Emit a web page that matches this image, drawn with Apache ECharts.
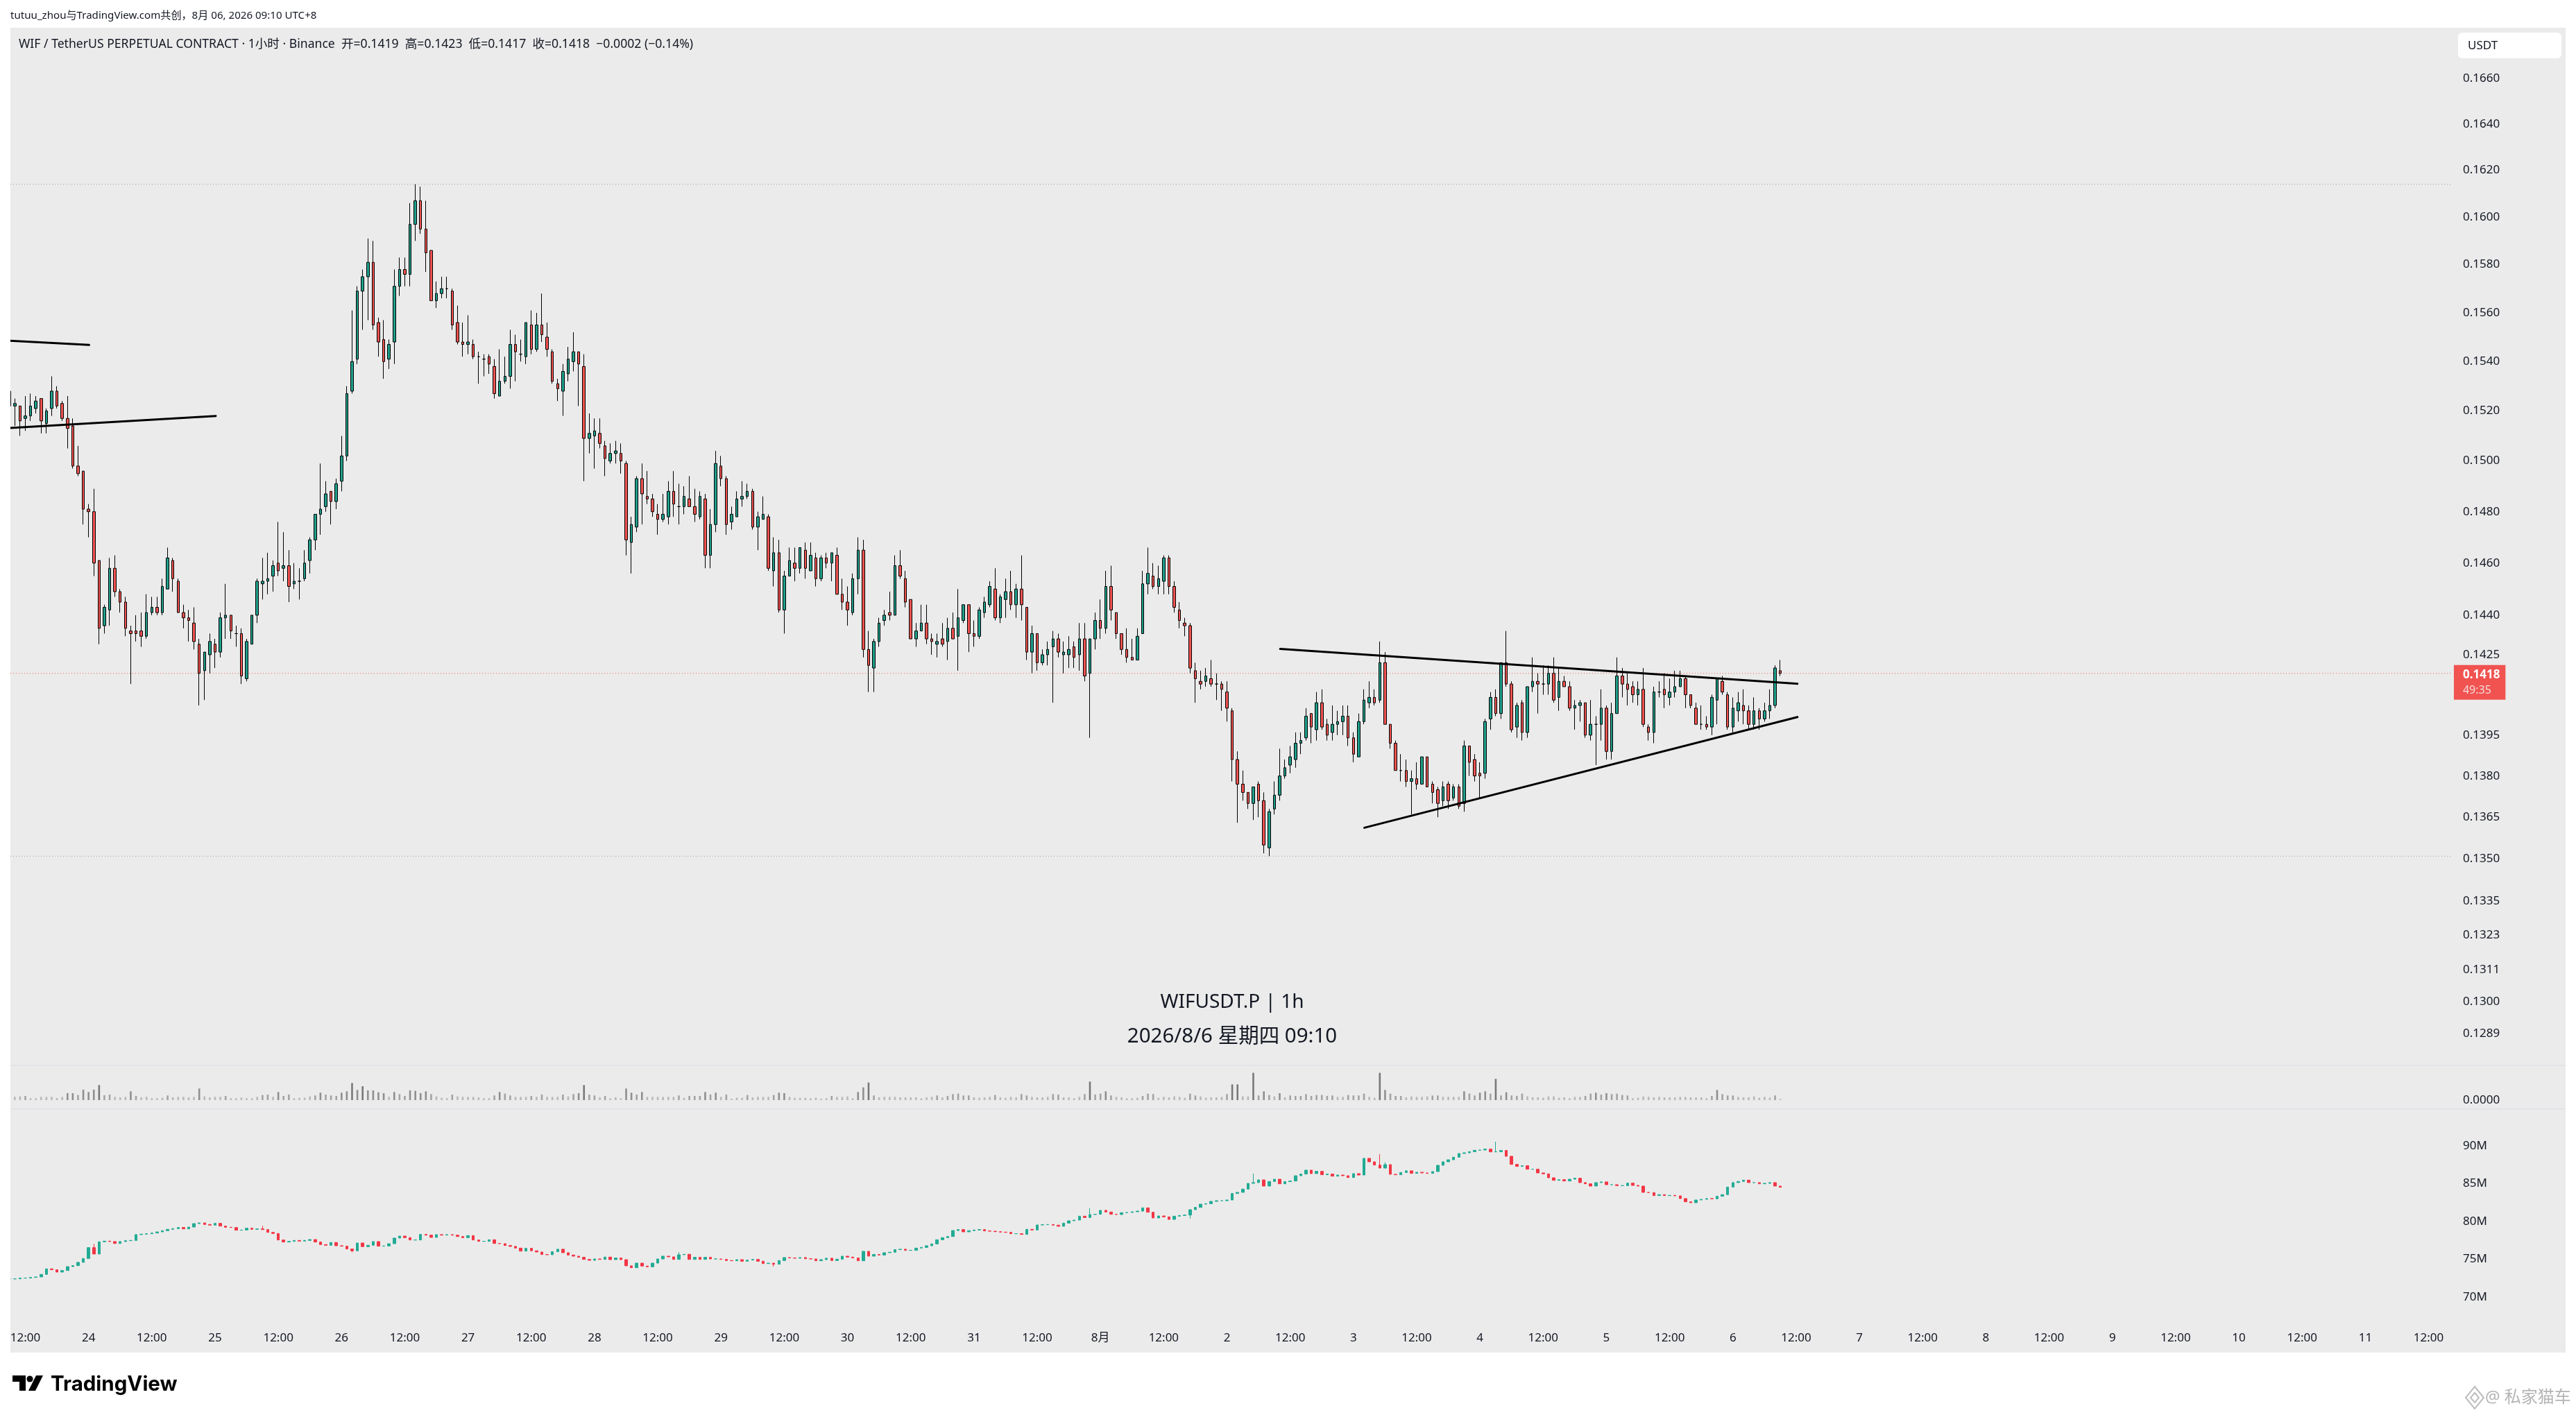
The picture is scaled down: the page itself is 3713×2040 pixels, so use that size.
<!DOCTYPE html>
<html>
<head>
<meta charset="utf-8">
<style>html,body{margin:0;padding:0;background:#fff}#c{width:3713px;height:2040px}</style>
<script src="https://cdn.jsdelivr.net/npm/echarts@6/dist/echarts.min.js"></script>
</head>
<body>
<div id="c"></div>
<script>
// Prices are listed in ten-thousandths of USDT, one candle per hour from Jul 23 09:00.
const firstHour = 9;
const priceOpen = [
1528,1522,1522,1517,1518,1521,1525,1515,1521,1528,
1523,1517,1514,1498,1496,1481,1480,1461,1436,1442,
1458,1449,1445,1434,1434,1434,1432,1441,1443,1441,
1450,1461,1453,1441,1439,1437,1429,1419,1425,1429,
1426,1439,1440,1433,1433,1416,1429,1440,1452,1453,
1455,1460,1458,1459,1452,1453,1454,1461,1469,1479,
1482,1488,1484,1492,1502,1528,1541,1569,1575,1581,
1556,1549,1541,1548,1571,1578,1576,1597,1607,1595,
1586,1565,1568,1570,1569,1556,1548,1547,1547,1542,
1541,1542,1538,1526,1532,1534,1547,1543,1542,1555,
1545,1555,1550,1544,1531,1528,1535,1540,1544,1538,
1509,1510,1511,1506,1500,1503,1503,1499,1468,1474,
1493,1486,1485,1479,1477,1478,1488,1482,1482,1485,
1482,1478,1485,1463,1475,1498,1493,1476,1478,1485,
1486,1488,1474,1477,1478,1457,1464,1442,1455,1460,
1458,1465,1457,1462,1454,1462,1460,1463,1448,1445,
1441,1454,1465,1427,1420,1430,1438,1441,1440,1459,
1454,1446,1431,1434,1437,1431,1429,1431,1430,1435,
1432,1438,1444,1433,1432,1441,1444,1450,1439,1446,
1449,1444,1450,1443,1426,1433,1422,1425,1428,1431,
1425,1425,1428,1425,1431,1418,1431,1438,1435,1451,
1441,1433,1427,1424,1423,1433,1452,1455,1451,1453,
1462,1451,1442,1437,1436,1419,1415,1415,1416,1414,
1414,1411,1404,1386,1377,1374,1370,1377,1371,1354,
1368,1373,1380,1384,1386,1392,1394,1403,1397,1407,
1399,1396,1399,1400,1402,1394,1387,1400,1407,1409,
1408,1422,1399,1392,1382,1382,1378,1379,1377,1387,
1377,1375,1371,1377,1372,1376,1370,1391,1386,1381,
1381,1401,1409,1403,1422,1414,1398,1407,1396,1413,
1415,1414,1414,1418,1409,1415,1413,1405,1406,1407,
1395,1399,1399,1405,1389,1403,1417,1414,1413,1410,
1412,1398,1396,1411,1412,1409,1411,1413,1416,1410,
1405,1399,1399,1398,1408,1415,1410,1398,1404,1406,
1404,1399,1404,1401,1404,1406,1419];
const priceHigh = [
1530,1525,1522,1526,1527,1526,1525,1521,1534,1530,
1524,1526,1517,1506,1496,1483,1489,1461,1444,1462,
1463,1450,1447,1436,1440,1441,1448,1447,1447,1454,
1466,1462,1454,1444,1442,1443,1431,1426,1433,1431,
1441,1452,1440,1436,1435,1431,1440,1454,1462,1464,
1461,1476,1472,1465,1460,1458,1465,1470,1479,1499,
1492,1488,1493,1510,1530,1561,1571,1578,1591,1590,
1558,1557,1549,1578,1583,1583,1606,1614,1613,1607,
1586,1573,1575,1575,1570,1563,1556,1559,1549,1544,
1543,1543,1541,1545,1542,1553,1551,1549,1556,1561,
1560,1568,1556,1545,1533,1539,1546,1552,1544,1543,
1519,1517,1517,1508,1507,1508,1507,1500,1478,1494,
1499,1496,1487,1483,1487,1492,1496,1491,1490,1494,
1489,1488,1487,1481,1504,1502,1494,1482,1488,1492,
1491,1489,1480,1486,1479,1470,1469,1457,1466,1466,
1466,1468,1468,1464,1463,1464,1464,1466,1454,1451,
1456,1470,1469,1434,1431,1439,1442,1449,1463,1465,
1457,1446,1437,1444,1444,1433,1433,1437,1439,1441,
1450,1444,1444,1438,1443,1447,1453,1458,1448,1454,
1457,1452,1463,1443,1436,1433,1427,1430,1434,1433,
1430,1432,1430,1437,1437,1431,1441,1446,1457,1459,
1441,1433,1435,1431,1435,1457,1466,1460,1459,1463,
1463,1453,1445,1439,1437,1422,1419,1420,1423,1418,
1415,1415,1405,1389,1382,1374,1376,1378,1374,1368,
1378,1390,1386,1391,1396,1396,1405,1403,1411,1412,
1401,1406,1404,1406,1406,1396,1403,1412,1415,1412,
1430,1426,1399,1393,1388,1386,1382,1385,1387,1387,
1378,1376,1378,1378,1377,1377,1393,1391,1388,1385,
1401,1411,1412,1422,1434,1415,1407,1408,1413,1424,
1418,1421,1421,1424,1420,1417,1415,1408,1408,1407,
1408,1402,1412,1406,1407,1424,1420,1418,1415,1415,
1420,1399,1413,1415,1418,1416,1419,1419,1417,1410,
1407,1406,1402,1410,1416,1417,1411,1409,1411,1412,
1406,1409,1405,1407,1412,1421,1423];
const priceLow = [
1520,1514,1510,1512,1516,1519,1511,1511,1518,1521,
1516,1505,1497,1494,1475,1470,1455,1429,1433,1436,
1447,1441,1432,1414,1430,1428,1431,1440,1440,1440,
1450,1449,1441,1435,1430,1427,1406,1408,1418,1420,
1424,1431,1431,1428,1414,1415,1429,1437,1446,1448,
1449,1455,1453,1445,1450,1446,1453,1456,1465,1471,
1480,1475,1481,1488,1500,1527,1539,1553,1557,1553,
1542,1533,1537,1539,1567,1571,1571,1590,1593,1577,
1565,1562,1566,1566,1553,1547,1542,1543,1541,1531,
1534,1535,1525,1526,1531,1529,1532,1540,1539,1543,
1544,1548,1542,1531,1524,1518,1532,1536,1522,1492,
1503,1497,1505,1494,1499,1499,1495,1463,1456,1472,
1475,1483,1478,1471,1476,1475,1478,1475,1479,1482,
1476,1477,1458,1458,1472,1490,1471,1473,1478,1482,
1485,1473,1465,1477,1457,1451,1441,1433,1455,1453,
1456,1454,1457,1451,1453,1458,1453,1448,1442,1436,
1440,1448,1424,1411,1411,1428,1436,1438,1440,1454,
1443,1431,1428,1434,1429,1425,1424,1428,1423,1431,
1419,1437,1426,1428,1431,1439,1443,1438,1437,1439,
1442,1439,1438,1423,1418,1419,1421,1421,1407,1424,
1418,1420,1420,1419,1415,1394,1427,1431,1433,1438,
1431,1425,1422,1423,1423,1433,1448,1450,1448,1448,
1448,1441,1435,1432,1418,1407,1412,1413,1413,1408,
1404,1400,1378,1363,1371,1368,1364,1365,1352,1351,
1366,1371,1379,1381,1383,1388,1393,1392,1393,1397,
1393,1393,1395,1395,1391,1385,1387,1399,1405,1406,
1407,1399,1390,1382,1378,1376,1366,1375,1377,1376,
1370,1365,1369,1368,1371,1368,1367,1380,1378,1372,
1379,1397,1402,1401,1413,1396,1394,1393,1394,1411,
1403,1410,1410,1407,1404,1413,1404,1397,1400,1394,
1393,1384,1393,1386,1386,1403,1409,1406,1407,1406,
1398,1393,1392,1409,1405,1406,1409,1413,1405,1405,
1399,1397,1397,1395,1399,1410,1397,1396,1400,1399,
1397,1397,1397,1400,1401,1405,1417];
const priceClose = [
1522,1523,1516,1518,1522,1524,1516,1520,1528,1522,
1517,1513,1498,1495,1481,1480,1460,1435,1443,1458,
1449,1445,1435,1433,1433,1432,1441,1443,1441,1451,
1462,1454,1441,1439,1438,1430,1418,1426,1430,1426,
1439,1440,1434,1433,1417,1430,1440,1453,1453,1454,
1459,1457,1459,1451,1453,1453,1460,1469,1479,1481,
1487,1484,1491,1502,1527,1540,1569,1575,1581,1555,
1548,1540,1547,1571,1578,1576,1597,1607,1595,1585,
1565,1568,1570,1570,1555,1548,1547,1548,1542,1542,
1541,1539,1527,1532,1534,1547,1544,1543,1556,1545,
1555,1551,1545,1532,1529,1536,1541,1544,1539,1509,
1511,1512,1507,1501,1503,1504,1500,1469,1475,1493,
1487,1485,1480,1477,1479,1488,1483,1482,1486,1482,
1479,1486,1463,1475,1499,1493,1475,1479,1485,1486,
1488,1474,1478,1479,1458,1464,1442,1455,1461,1458,
1466,1458,1463,1454,1462,1460,1464,1448,1445,1442,
1454,1465,1427,1421,1430,1437,1440,1440,1459,1455,
1445,1431,1434,1437,1431,1430,1430,1429,1435,1431,
1439,1444,1433,1432,1442,1445,1451,1439,1447,1449,
1444,1450,1444,1426,1433,1422,1425,1427,1431,1426,
1426,1427,1424,1431,1417,1431,1438,1435,1451,1442,
1433,1427,1424,1423,1432,1452,1456,1451,1454,1462,
1451,1443,1438,1436,1420,1416,1414,1417,1414,1414,
1412,1405,1386,1377,1374,1370,1376,1371,1355,1367,
1373,1380,1383,1387,1392,1393,1402,1398,1407,1398,
1395,1399,1400,1402,1394,1388,1400,1408,1409,1407,
1422,1399,1392,1382,1382,1378,1379,1377,1387,1376,
1374,1370,1376,1371,1376,1369,1391,1385,1380,1380,
1400,1409,1403,1422,1414,1397,1406,1396,1413,1415,
1414,1414,1418,1408,1415,1413,1405,1406,1407,1395,
1399,1399,1405,1389,1403,1417,1414,1412,1410,1412,
1399,1396,1411,1411,1410,1411,1413,1416,1410,1406,
1399,1399,1398,1409,1416,1411,1398,1405,1407,1404,
1399,1404,1401,1404,1406,1420,1418];
const priceTicks = [0.1660,0.1640,0.1620,0.1600,0.1580,0.1560,0.1540,0.1520,0.1500,0.1480,0.1460,0.1440,0.1425,0.1410,0.1395,0.1380,0.1365,0.1350,0.1335,0.1323,0.1311,0.1300,0.1289];
const lastPrice = 0.1418;
const sessionHigh = 0.1614;
const sessionLow = 0.1351;
// Trend lines: [hour, price] end points
const trendA = [[9.1,0.15485],[24.11,0.15468]];
const trendB = [[9.1,0.15132],[48.13,0.15180]];
const trendUpper = [[250.1,0.14272],[348.25,0.14141]];
const trendLower = [[266.06,0.13612],[348.25,0.14017]];
// Volume histogram, arbitrary units (the only scale label on the pane is 0.0000)
const volume = [
15,14,16,18,8,8,14,14,14,9,
14,30,30,22,45,35,45,65,21,24,
14,12,14,38,18,12,14,8,8,10,
20,12,14,14,12,14,50,16,12,14,
14,18,8,8,11,8,8,14,22,24,
14,35,18,24,8,10,10,16,20,32,
24,20,18,32,38,74,44,60,42,42,
34,30,14,35,26,18,42,40,30,38,
26,16,10,8,24,16,14,14,14,12,
8,8,20,35,28,20,14,14,14,18,
14,24,14,14,14,24,16,26,30,65,
24,20,12,18,8,12,8,50,32,24,
35,14,14,14,14,14,14,20,10,18,
18,18,35,24,32,14,24,6,10,10,
22,12,14,14,14,22,32,30,14,10,
10,10,8,10,6,8,18,14,14,16,
8,35,55,76,20,12,14,14,14,12,
12,12,12,8,12,14,20,12,18,26,
28,20,20,12,10,12,14,22,12,10,
14,12,26,20,14,12,12,14,26,24,
12,12,8,14,26,80,24,28,38,20,
14,12,8,8,10,18,28,26,10,14,
12,16,14,10,28,20,16,10,12,12,
14,26,68,68,16,16,118,20,38,22,
16,30,12,20,18,18,26,18,22,22,
18,20,14,14,22,20,20,28,14,10,
118,44,28,18,18,12,16,14,14,16,
20,20,14,14,14,14,38,28,20,32,
38,28,92,20,34,20,18,28,16,12,
12,10,16,16,10,12,8,14,14,18,
28,32,24,30,26,28,22,20,8,10,
16,14,12,14,12,12,12,14,14,12,
12,12,8,18,44,26,20,20,14,12,
12,16,10,14,10,20,5];
// Lower pane candle closes, in millions
const flowClose = [
72.41,72.41,72.51,72.51,72.60,72.66,73.00,73.73,73.61,73.30,
73.51,74.03,74.16,74.59,75.10,76.54,75.69,77.31,77.40,77.34,
77.09,77.34,77.46,77.49,78.26,78.32,78.38,78.47,78.62,78.78,
78.96,79.05,79.20,79.02,79.26,79.72,79.81,79.60,79.51,79.75,
79.39,79.23,79.20,78.84,78.87,79.11,78.96,79.02,78.93,78.56,
78.41,77.55,77.28,77.37,77.49,77.40,77.49,77.61,77.28,76.94,
76.85,77.22,76.79,76.73,76.36,76.12,77.15,76.67,76.85,77.34,
76.73,76.76,77.06,77.80,78.07,77.86,77.55,77.55,78.29,78.19,
77.89,78.26,78.19,78.26,78.19,78.01,77.86,78.13,77.55,77.37,
77.37,77.58,77.09,77.06,76.82,76.70,76.48,76.08,76.45,76.12,
75.96,75.63,75.60,76.00,76.33,75.87,75.56,75.41,75.26,74.98,
74.86,75.04,74.98,75.29,74.95,75.17,74.95,74.13,73.88,74.49,
74.10,74.00,74.49,75.04,75.41,75.32,74.98,75.60,75.66,74.98,
75.26,74.98,75.26,75.04,75.04,74.98,74.83,74.80,74.95,74.74,
74.89,74.98,74.74,74.43,74.49,74.34,74.83,75.23,75.17,75.14,
75.23,75.07,75.04,74.80,74.95,75.14,74.83,75.01,75.41,75.29,
75.17,74.80,76.05,75.41,75.63,75.56,75.87,75.93,76.27,76.33,
76.18,76.18,76.48,76.57,76.79,77.03,77.58,77.86,78.01,78.80,
78.93,78.62,78.78,78.87,78.93,78.75,78.71,78.65,78.59,78.56,
78.38,78.38,78.29,78.96,78.87,79.54,79.57,79.60,79.51,79.36,
79.78,80.09,80.18,80.70,80.52,80.92,80.95,81.47,81.25,80.95,
80.92,81.16,81.19,81.28,81.37,81.80,81.22,80.46,80.73,80.61,
80.27,80.70,80.79,80.85,81.56,81.86,82.29,82.35,82.66,82.75,
82.75,82.84,83.70,83.85,84.28,85.04,85.14,85.50,84.68,85.29,
85.59,84.98,85.26,85.35,86.05,86.27,86.79,86.33,86.63,86.18,
86.27,85.99,86.14,86.05,85.81,86.33,86.14,88.35,87.89,87.46,
87.06,87.52,86.24,86.18,86.48,86.70,86.36,86.51,86.42,86.36,
86.60,87.43,87.89,88.16,88.50,88.99,89.08,89.23,89.42,89.45,
89.57,89.20,89.23,89.39,88.62,87.55,87.28,87.37,86.91,86.91,
86.42,86.30,85.78,85.44,85.53,85.35,85.59,85.72,85.14,84.98,
84.68,85.14,85.23,84.86,84.86,84.74,84.74,85.07,84.77,84.68,
83.85,83.82,83.42,83.55,83.42,83.45,83.39,83.03,82.60,82.48,
82.84,82.93,83.03,83.00,83.33,83.55,84.55,85.14,85.29,85.47,
85.14,85.14,84.98,85.04,85.14,84.68,84.52];
const flowStart = 72.41;
// Visible wicks on the lower pane: candle number -> extreme, in millions
const flowHighWicks = {17:77.03,49:79.42,128:75.93,164:75.90,206:81.74,237:86.33,261:88.90,262:87.83,283:90.55};
const flowLowWicks = {66:75.93,146:74.03,225:80.40};
const flowTicks = [70,75,80,85,90];
// Time axis
const timeTickHours = [12,24,36,48,60,72,84,96,108,120,132,144,156,168,180,192,204,216,228,240,252,264,276,288,300,312,324,336,348,360,372,384,396,408,420,432,444,456,468];
const timeTickLabels = ['12:00','24','12:00','25','12:00','26','12:00','27','12:00','28','12:00','29','12:00','30','12:00','31','12:00','8月','12:00','2','12:00','3','12:00','4','12:00','5','12:00','6','12:00','7','12:00','8','12:00','9','12:00','10','12:00','11','12:00'];

const FONT = '"Noto Sans","Noto Sans CJK SC",sans-serif';
const INK = '#131722';
const UNIT = 10000;
const X_MIN = 9.17, X_MAX = 472.8;
const LEVEL_END = 472.4;
const hours = priceOpen.map((_, i) => firstHour + i);
const priceRows = hours.map((h, i) => [h, priceOpen[i]/UNIT, priceClose[i]/UNIT, priceLow[i]/UNIT, priceHigh[i]/UNIT]);
const flowRows = flowClose.map((c, i) => {
  const o = i === 0 ? flowStart : flowClose[i-1];
  const n = i + 1;
  return [firstHour + i, o, c, flowLowWicks[n] ?? Math.min(o,c), flowHighWicks[n] ?? Math.max(o,c)];
});
const volRows = volume.map((v, i) => [firstHour + i, v]);
const volColor = v => v >= 60 ? '#787878' : v >= 30 ? '#8f8f8f' : v >= 18 ? '#a3a3a3' : '#b8b8b8';
const tickLabelOf = {};
timeTickHours.forEach((h, i) => { tickLabelOf[h] = timeTickLabels[i]; });

const xCommon = {type:'value', min:X_MIN, max:X_MAX, axisLine:{show:false}, axisTick:{show:false}, splitLine:{show:false}};
const trend = (data) => ({type:'line', xAxisIndex:0, yAxisIndex:0, data, showSymbol:false, z:6, silent:true,
  lineStyle:{color:'#000', width:3, cap:'round'}, animation:false});
const level = (price, color, extra) => Object.assign({type:'line', xAxisIndex:0, yAxisIndex:0,
  data:[[X_MIN, price],[LEVEL_END, price]], showSymbol:false, z:2, silent:true, animation:false,
  lineStyle:{color, width:1, type:[1,3]}}, extra||{});
const txt = (x, y, text, size, extra) => ({type:'text', x, y, z:50, silent:true,
  style:Object.assign({text, fontFamily:FONT, fontSize:size, fill:INK, textVerticalAlign:'middle', verticalAlign:'middle'}, extra||{})});

const chart = echarts.init(document.getElementById('c'), null, {renderer:'canvas', width:3713, height:2040});
chart.setOption({
  animation:false,
  backgroundColor:'#ffffff',
  grid:[
    {left:15, top:40, width:3522, height:1496},
    {left:15, top:1536, width:3522, height:63},
    {left:15, top:1599, width:3522, height:309}
  ],
  xAxis:[
    Object.assign({gridIndex:0, axisLabel:{show:false}}, xCommon),
    Object.assign({gridIndex:1, axisLabel:{show:false}}, xCommon),
    Object.assign({gridIndex:2, position:'bottom', axisLabel:{
      show:true, customValues:timeTickHours, margin:13, fontFamily:FONT, fontSize:17, color:INK,
      hideOverlap:false, showMinLabel:true, showMaxLabel:true,
      formatter:v => tickLabelOf[Math.round(v)] ?? ''}}, xCommon)
  ],
  yAxis:[
    {gridIndex:0, type:'log', logBase:10, min:0.12782, max:0.16823, position:'right',
      axisLine:{show:false}, axisTick:{show:false}, splitLine:{show:false}, minorTick:{show:false}, minorSplitLine:{show:false},
      axisLabel:{customValues:priceTicks, margin:13, align:'left', padding:[3,0,0,0], fontFamily:FONT, fontSize:17, color:INK, hideOverlap:false,
        formatter:v => Number(v).toFixed(4)}},
    {gridIndex:1, type:'value', min:-39, max:150, position:'right',
      axisLine:{show:false}, axisTick:{show:false}, splitLine:{show:false},
      axisLabel:{customValues:[0], margin:13, align:'left', fontFamily:FONT, fontSize:17, color:INK, formatter:() => '0.0000'}},
    {gridIndex:2, type:'value', min:66.51, max:94.86, position:'right',
      axisLine:{show:false}, axisTick:{show:false}, splitLine:{show:false},
      axisLabel:{customValues:flowTicks, margin:13, align:'left', fontFamily:FONT, fontSize:17, color:INK, formatter:v => v + 'M'}}
  ],
  series:[
    level(sessionHigh, '#9a9a9a'),
    level(sessionLow, '#9a9a9a'),
    level(lastPrice, '#ef5350', {
      endLabel:{show:true, distance:0, offset:[3,13], align:'left', verticalAlign:'middle', backgroundColor:'#f05350',
        padding:[2,8,2,13], formatter:'{a|0.1418}\n{b|49:35}',
        rich:{a:{color:'#fff', fontFamily:FONT, fontSize:17, fontWeight:'bold', lineHeight:24},
              b:{color:'#f7dcdc', fontFamily:FONT, fontSize:16, lineHeight:22}}}}),
    {type:'candlestick', name:'WIFUSDT.P', xAxisIndex:0, yAxisIndex:0, data:priceRows, barWidth:4, z:3, silent:true,
      itemStyle:{color:'#1f9e8a', color0:'#ef5350', borderColor:'#000', borderColor0:'#000', borderWidth:1}},
    trend(trendA), trend(trendB), trend(trendUpper), trend(trendLower),
    {type:'bar', name:'Volume', xAxisIndex:1, yAxisIndex:1, data:volRows, barWidth:2.6, silent:true,
      itemStyle:{color:p => volColor(p.value[1])}},
    {type:'candlestick', name:'Lower pane', xAxisIndex:2, yAxisIndex:2, data:flowRows, barWidth:4, silent:true,
      itemStyle:{color:'#22ab94', color0:'#f23645', borderColor:'#22ab94', borderColor0:'#f23645', borderWidth:1}}
  ],
  graphic:{elements:[
    {type:'rect', z:-10, silent:true, shape:{x:15, y:40, width:3683, height:1910}, style:{fill:'#ebebeb'}},
    {type:'rect', z:30, silent:true, shape:{x:0, y:40, width:15, height:1910}, style:{fill:'#ffffff'}},
    {type:'line', z:-5, silent:true, shape:{x1:15, y1:1536, x2:3698, y2:1536}, style:{stroke:'#e3e3e9', lineWidth:2}},
    {type:'line', z:-5, silent:true, shape:{x1:15, y1:1599, x2:3698, y2:1599}, style:{stroke:'#e3e3e9', lineWidth:2}},
    {type:'rect', z:40, silent:true, shape:{x:3543, y:47, width:149, height:37, r:6}, style:{fill:'#ffffff'}},
    txt(3557, 66, 'USDT', 17),
    txt(15, 23, 'tutuu_zhou与TradingView.com共创，8月 06, 2026 09:10 UTC+8', 15.1),
    txt(27, 64, 'WIF / TetherUS PERPETUAL CONTRACT · 1小时 · Binance  开=0.1419  高=0.1423  低=0.1417  收=0.1418  −0.0002 (−0.14%)', 17.6),
    txt(1776, 1445, 'WIFUSDT.P | 1h', 28, {textAlign:'center', align:'center'}),
    txt(1776, 1495, '2026/8/6 星期四 09:10', 29.5, {textAlign:'center', align:'center'}),
    // TradingView mark
    {type:'polygon', z:50, silent:true, shape:{points:[[18,1983],[37,1983],[37,2005],[28,2005],[28,1992],[18,1992]]}, style:{fill:'#000'}},
    {type:'circle', z:50, silent:true, shape:{cx:43, cy:1988, r:4.6}, style:{fill:'#000'}},
    {type:'polygon', z:50, silent:true, shape:{points:[[52,1983],[62,1983],[51,2005],[41,2005]]}, style:{fill:'#000'}},
    txt(73, 1996, 'TradingView', 29.5, {fontFamily:'Inter,"Noto Sans",sans-serif', fontWeight:700, fill:'#000'}),
    // Watermark
    {type:'polygon', z:50, silent:true, shape:{points:[[3567,1999],[3580,2015],[3567,2031],[3554,2015]]}, style:{fill:'none', stroke:'#bdbdbd', lineWidth:2}},
    {type:'polygon', z:50, silent:true, shape:{points:[[3567,2008],[3573,2015],[3567,2022],[3561,2015]]}, style:{fill:'none', stroke:'#bdbdbd', lineWidth:2}},
    txt(3582, 2015, '@ 私家猫车', 24, {fill:'#b4b4b4'})
  ]}
});
</script>
</body>
</html>
